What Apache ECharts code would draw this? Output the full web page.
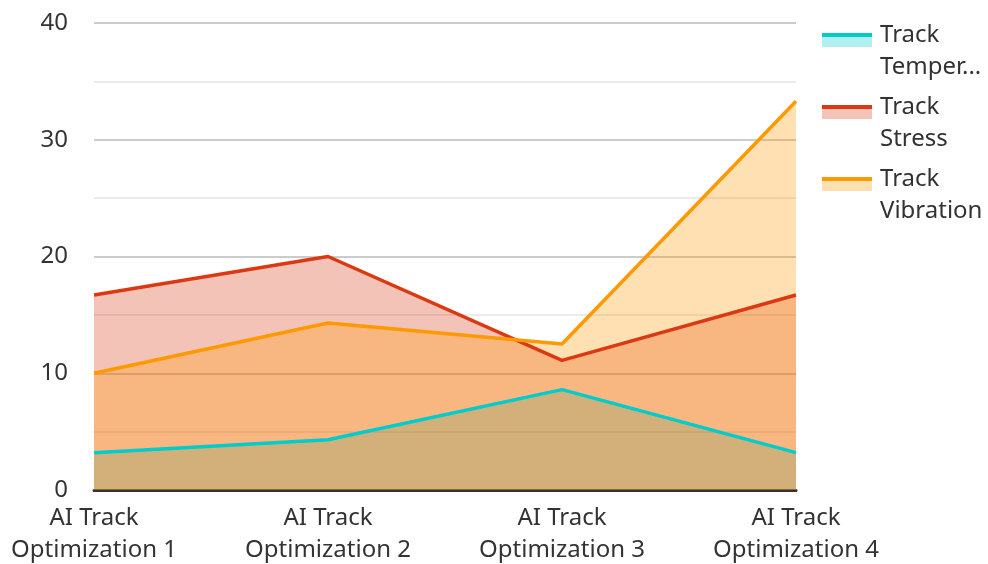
<!DOCTYPE html>
<html>
<head>
<meta charset="utf-8">
<script src="https://cdn.jsdelivr.net/npm/echarts@6/dist/echarts.min.js"></script>
<style>
html,body{margin:0;padding:0;background:#fff;}
#chart{width:988px;height:564px;}
</style>
</head>
<body>
<div id="chart"></div>
<script>
const categories = ['AI Track\nOptimization 1', 'AI Track\nOptimization 2', 'AI Track\nOptimization 3', 'AI Track\nOptimization 4'];
const seriesNames = ['Track Temperature', 'Track Stress', 'Track Vibration'];
const trackTemperature = [3.2, 4.3, 8.6, 3.2];
const trackStress = [16.7, 20, 11.1, 16.7];
const trackVibration = [10, 14.3, 12.5, 33.3];
const colors = ['#00CCCC', '#DC3912', '#FF9900'];

function hexToRgba(hex, a) {
  const n = parseInt(hex.slice(1), 16);
  return 'rgba(' + ((n >> 16) & 255) + ',' + ((n >> 8) & 255) + ',' + (n & 255) + ',' + a + ')';
}

const chart = echarts.init(document.getElementById('chart'));
const dataSets = [trackTemperature, trackStress, trackVibration];
chart.setOption({
  animation: false,
  color: colors,
  textStyle: { fontFamily: 'Noto Sans' },
  grid: { left: 94, right: 192, top: 23, bottom: 74, outerBoundsMode: 'none', containLabel: false },
  legend: {
    orient: 'vertical',
    left: 822,
    top: 17,
    padding: 0,
    itemWidth: 50,
    itemHeight: 36,
    itemGap: 4,
    formatter: function (name) { return name.replace(' ', '\n'); },
    textStyle: {
      fontSize: 24,
      color: '#333',
      lineHeight: 32,
      width: 108,
      overflow: 'truncate',
      padding: [4, 0, 0, 3]
    },
    data: seriesNames.map((name, i) => ({
      name: name,
      icon: 'rect',
      itemStyle: {
        color: {
          type: 'linear', x: 0, y: 0, x2: 0, y2: 1,
          colorStops: [
            { offset: 0, color: colors[i] },
            { offset: 0.1, color: colors[i] },
            { offset: 0.1, color: hexToRgba(colors[i], 0.3) },
            { offset: 0.4, color: hexToRgba(colors[i], 0.3) },
            { offset: 0.4, color: 'rgba(255,255,255,0)' },
            { offset: 1, color: 'rgba(255,255,255,0)' }
          ]
        }
      }
    }))
  },
  xAxis: {
    type: 'category',
    boundaryGap: false,
    data: categories,
    axisLine: { lineStyle: { color: '#333', width: 3 } },
    axisTick: { show: false },
    axisLabel: { fontSize: 24, color: '#333', lineHeight: 32, margin: 12 }
  },
  yAxis: {
    type: 'value',
    min: 0,
    max: 40,
    interval: 10,
    axisLine: { show: false },
    axisTick: { show: false },
    axisLabel: { fontSize: 24, color: '#333', margin: 26 },
    splitLine: { lineStyle: { color: '#cccccc', width: 2 } },
    minorTick: { show: false, splitNumber: 2 },
    minorSplitLine: { show: true, lineStyle: { color: '#ebebeb', width: 2 } }
  },
  series: seriesNames.map((name, i) => ({
    name: name,
    type: 'line',
    data: dataSets[i],
    symbol: 'none',
    lineStyle: { width: 3.5 },
    areaStyle: { opacity: 0.3 }
  }))
});
</script>
</body>
</html>
